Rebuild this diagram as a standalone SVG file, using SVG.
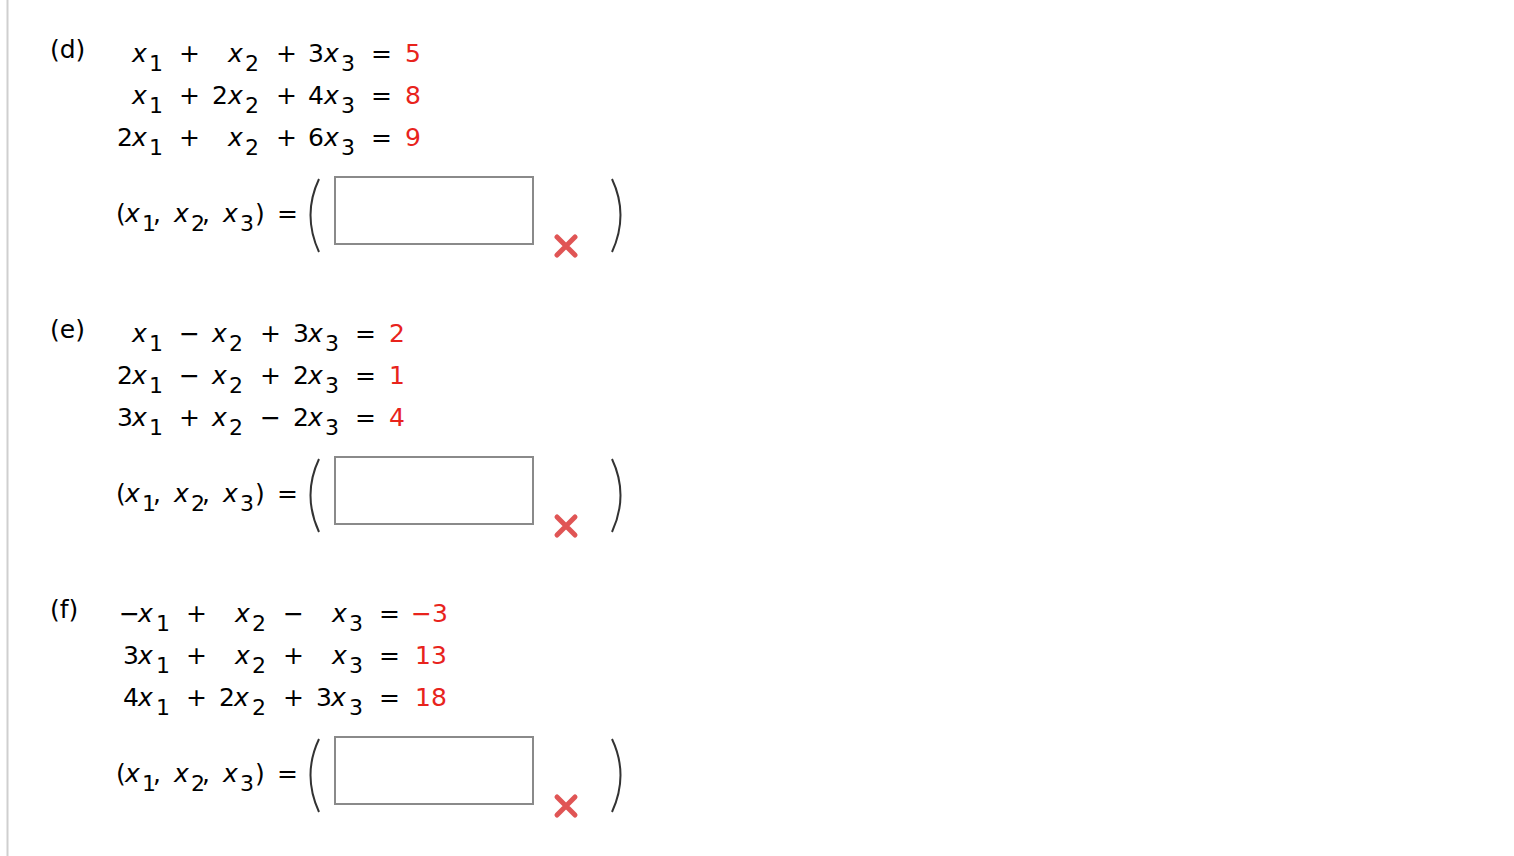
<svg xmlns="http://www.w3.org/2000/svg" width="1514" height="856" viewBox="0 0 1514 856">
<defs>
<style>
text{font-family:"DejaVu Sans","Liberation Sans",sans-serif;font-size:25px;fill:#000}
.v{font-style:italic}
.s{font-size:22px}
.r{fill:#e8231c}
.box{fill:#fff;stroke:#8a8a8a;stroke-width:2}
.par{fill:none;stroke:#333;stroke-width:2}
.x{stroke:#e05555;stroke-width:5;stroke-linecap:round}
</style>
<g id="ans">
<text x="116" y="222">(</text><text class="v" x="125" y="222">x</text><text class="s" x="142" y="231">1</text><text x="153" y="222">,</text>
<text class="v" x="174" y="222">x</text><text class="s" x="191" y="231">2</text><text x="202" y="222">,</text>
<text class="v" x="223" y="222">x</text><text class="s" x="240" y="231">3</text><text x="255" y="222">)</text><text x="277" y="222">=</text>
<path class="par" d="M319,179 Q302,215 319,252"/>
<rect class="box" x="335" y="177" width="198" height="67"/>
<path class="x" d="M557,237 L575,255 M575,237 L557,255"/>
<path class="par" d="M612,179 Q629,215 612,252"/>
</g>
</defs>
<rect width="1514" height="856" fill="#fff"/>
<line x1="7.5" y1="0" x2="7.5" y2="856" stroke="#cfcfcf" stroke-width="2"/>
<g id="part-d">
<text x="50" y="58">(d)</text>
<text class="v" x="132" y="62">x</text><text class="s" x="149" y="71">1</text><text x="179" y="62">+</text><text class="v" x="228" y="62">x</text><text class="s" x="245" y="71">2</text><text x="276" y="62">+</text><text x="308" y="62">3</text><text class="v" x="324" y="62">x</text><text class="s" x="341" y="71">3</text><text x="371" y="62">=</text><text class="r" x="405" y="62">5</text>
<text class="v" x="132" y="104">x</text><text class="s" x="149" y="113">1</text><text x="179" y="104">+</text><text x="212" y="104">2</text><text class="v" x="228" y="104">x</text><text class="s" x="245" y="113">2</text><text x="276" y="104">+</text><text x="308" y="104">4</text><text class="v" x="324" y="104">x</text><text class="s" x="341" y="113">3</text><text x="371" y="104">=</text><text class="r" x="405" y="104">8</text>
<text x="117" y="146">2</text><text class="v" x="132" y="146">x</text><text class="s" x="149" y="155">1</text><text x="179" y="146">+</text><text class="v" x="228" y="146">x</text><text class="s" x="245" y="155">2</text><text x="276" y="146">+</text><text x="308" y="146">6</text><text class="v" x="324" y="146">x</text><text class="s" x="341" y="155">3</text><text x="371" y="146">=</text><text class="r" x="405" y="146">9</text>
<use href="#ans"/>
</g>
<g id="part-e">
<text x="50" y="338">(e)</text>
<text class="v" x="132" y="342">x</text><text class="s" x="149" y="351">1</text><text x="179" y="342">−</text><text class="v" x="212" y="342">x</text><text class="s" x="229" y="351">2</text><text x="260" y="342">+</text><text x="293" y="342">3</text><text class="v" x="308" y="342">x</text><text class="s" x="325" y="351">3</text><text x="355" y="342">=</text><text class="r" x="389" y="342">2</text>
<text x="117" y="384">2</text><text class="v" x="132" y="384">x</text><text class="s" x="149" y="393">1</text><text x="179" y="384">−</text><text class="v" x="212" y="384">x</text><text class="s" x="229" y="393">2</text><text x="260" y="384">+</text><text x="293" y="384">2</text><text class="v" x="308" y="384">x</text><text class="s" x="325" y="393">3</text><text x="355" y="384">=</text><text class="r" x="389" y="384">1</text>
<text x="117" y="426">3</text><text class="v" x="132" y="426">x</text><text class="s" x="149" y="435">1</text><text x="179" y="426">+</text><text class="v" x="212" y="426">x</text><text class="s" x="229" y="435">2</text><text x="260" y="426">−</text><text x="293" y="426">2</text><text class="v" x="308" y="426">x</text><text class="s" x="325" y="435">3</text><text x="355" y="426">=</text><text class="r" x="389" y="426">4</text>
<use href="#ans" y="280"/>
</g>
<g id="part-f">
<text x="50" y="618">(f)</text>
<text x="119" y="622">−</text><text class="v" x="138" y="622">x</text><text class="s" x="156" y="631">1</text><text x="186" y="622">+</text><text class="v" x="235" y="622">x</text><text class="s" x="252" y="631">2</text><text x="283" y="622">−</text><text class="v" x="332" y="622">x</text><text class="s" x="349" y="631">3</text><text x="379" y="622">=</text><text class="r" x="411" y="622">−3</text>
<text x="123" y="664">3</text><text class="v" x="138" y="664">x</text><text class="s" x="156" y="673">1</text><text x="186" y="664">+</text><text class="v" x="235" y="664">x</text><text class="s" x="252" y="673">2</text><text x="283" y="664">+</text><text class="v" x="332" y="664">x</text><text class="s" x="349" y="673">3</text><text x="379" y="664">=</text><text class="r" x="415" y="664">13</text>
<text x="123" y="706">4</text><text class="v" x="138" y="706">x</text><text class="s" x="156" y="715">1</text><text x="186" y="706">+</text><text x="219" y="706">2</text><text class="v" x="234" y="706">x</text><text class="s" x="252" y="715">2</text><text x="283" y="706">+</text><text x="316" y="706">3</text><text class="v" x="331" y="706">x</text><text class="s" x="349" y="715">3</text><text x="379" y="706">=</text><text class="r" x="415" y="706">18</text>
<use href="#ans" y="560"/>
</g>
</svg>
